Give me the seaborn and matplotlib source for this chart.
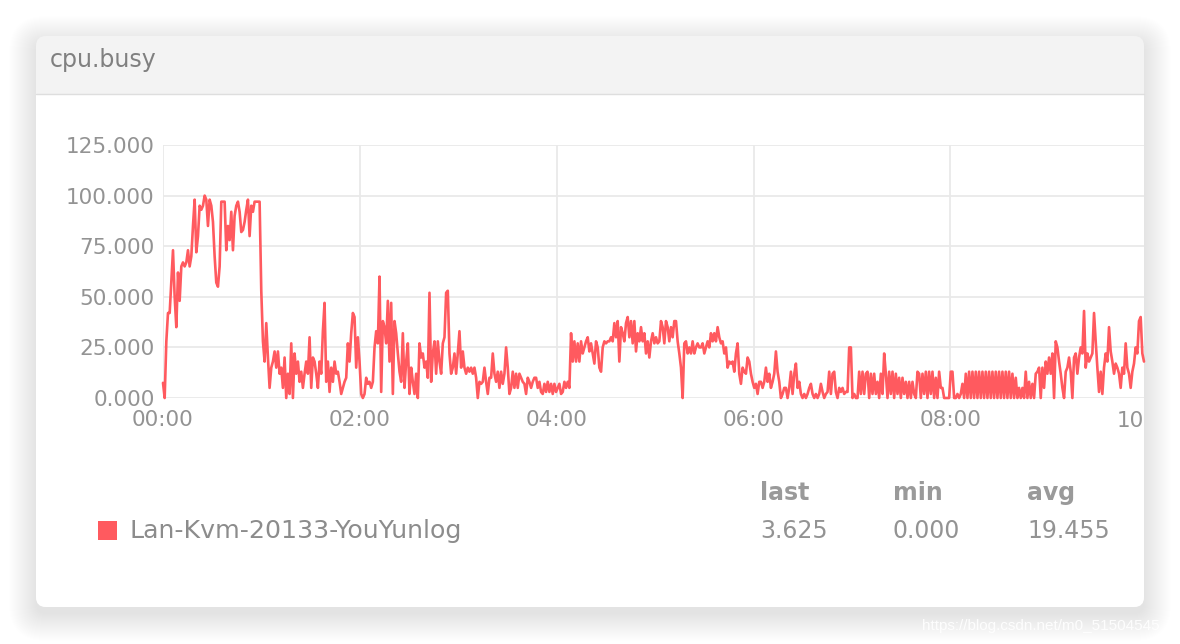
import numpy as np
import matplotlib
matplotlib.use("Agg")
import matplotlib.pyplot as plt
import seaborn as sns
from matplotlib.patches import FancyBboxPatch, Rectangle
from matplotlib.transforms import Bbox, TransformedBbox

# cpu.busy readings (one sample ~ every minute), split by stretch
seg_a = [7.5, 0, 28, 42, 42, 58, 73, 50, 35, 62, 48, 65, 67, 65, 67, 73, 65, 70, 85, 98,
         72, 80, 95, 93, 95, 100, 98, 85, 98, 95, 87, 70, 57, 55, 65, 97, 97, 97, 73, 85,
         78, 92, 73, 90, 95, 97, 92, 82, 83, 87, 93, 98, 80, 95, 92, 97, 97, 97, 97, 53,
         28, 18, 37, 20, 5, 15, 18, 23, 15, 23, 12]
seg_b = [15, 5, 20, 0, 12, 2, 27, 0, 22, 12, 18, 8, 13, 5, 12, 18, 12, 30, 5, 20,
         18, 12, 5, 18, 12, 33, 47, 8, 18, 3, 15, 8, 18, 12, 13, 8, 2, 5, 8, 10,
         27, 18, 32, 42, 40, 15, 30, 18, 2, 0, 2, 10, 7, 8, 5, 8, 25, 33, 27, 60,
         3, 38, 35, 27, 48, 18, 47, 2, 38, 32, 22, 13]
seg_c = [8, 32, 5, 18, 27, 2, 15, 8, 2, 12, 0, 27, 20, 22, 15, 18, 10, 52, 8, 22,
         28, 12, 28, 18, 12, 27, 30, 52, 53, 22, 12, 15, 22, 12, 22, 33, 15, 23, 15, 12,
         15, 13, 15, 12, 15, 10, 0, 8, 7, 8, 15, 8, 2, 10, 10, 22, 12, 8, 13, 5,
         13, 7, 12, 25, 15, 2, 5, 13, 5, 12, 5, 12]
seg_d = [10, 8, 7, 2, 10, 8, 5, 8, 10, 10, 5, 8, 3, 2, 7, 3, 8, 3, 7, 2,
         7, 3, 5, 7, 2, 3, 8, 5, 8, 5, 32, 18, 28, 18, 27, 18, 28, 22, 25, 28,
         30, 23, 27, 22, 17, 28, 25, 15, 13, 25, 28, 27, 28, 28, 30, 28, 37, 30, 38, 18,
         35, 32, 28, 37, 40, 30, 38, 27, 38, 23, 32, 28]
seg_e = [35, 28, 32, 22, 28, 20, 28, 32, 27, 30, 27, 28, 38, 35, 27, 38, 35, 28, 35, 30,
         38, 38, 28, 22, 15, 0, 27, 28, 22, 25, 22, 28, 22, 25, 27, 25, 25, 27, 22, 25,
         28, 25, 32, 28, 32, 28, 35, 30, 27, 28, 22, 25, 15, 18, 17, 18, 13, 22, 27, 12,
         7, 15, 13, 12, 20, 18, 12, 8, 5, 7, 2, 8]
seg_f = [8, 5, 8, 15, 8, 12, 5, 8, 12, 23, 13, 8, 0, 2, 5, 5, 0, 5, 13, 2,
         12, 17, 5, 8, 2, 0, 2, 0, 2, 5, 7, 2, 0, 2, 0, 2, 7, 3, 0, 2,
         3, 13, 2, 12, 13, 3, 0, 5, 3, 5, 2, 3, 3, 25, 25, 0, 2, 0, 0, 13,
         2, 13, 2, 12, 13, 0, 12, 2, 12, 2, 8, 0]
seg_g = [12, 2, 22, 12, 0, 13, 2, 13, 0, 12, 2, 10, 0, 10, 2, 8, 0, 8, 0, 8,
         2, 0, 13, 12, 0, 12, 2, 13, 0, 13, 2, 13, 0, 10, 0, 13, 5, 5, 0, 0,
         0, 0, 13, 13, 0, 0, 2, 0, 2, 7, 0, 12, 0, 13, 0, 13, 0, 13, 0, 13,
         0, 13, 0, 13, 0, 13, 0, 13, 0, 13, 0, 13]
seg_h = [0, 13, 0, 13, 0, 13, 0, 12, 0, 10, 0, 5, 0, 5, 0, 13, 0, 8, 0, 7,
         0, 12, 13, 15, 0, 15, 5, 18, 12, 20, 12, 22, 0, 28, 25, 18, 12, 5, 0, 13,
         15, 20, 13, 0, 20, 22, 12, 20, 25, 22, 43, 15, 22, 18, 20, 22, 42, 28, 15, 3,
         13, 2, 15, 22, 18, 35, 23, 18, 12, 17, 15, 12, 5, 15, 12, 27, 15, 12, 5, 13,
         17, 25, 22, 38, 40, 22, 18]

chart_title = "cpu.busy"
series_name = "Lan-Kvm-20133-YouYunlog"
stat_labels = ["last", "min", "avg"]
stat_values = ["3.625", "0.000", "19.455"]
y_ticks = [0, 25, 50, 75, 100, 125]
x_ticks = [0, 120, 240, 360, 480]
x_tick_labels = ["00:00", "02:00", "04:00", "06:00", "08:00"]
clipped_label = "10:00"
watermark = "https://blog.csdn.net/m0_51504545"

values = seg_a + seg_b + seg_c + seg_d + seg_e + seg_f + seg_g + seg_h
minutes = np.linspace(0, 598, len(values))

line_color = "#ff5a5f"
tick_color = "#939393"

sns.set_style("white")
plt.rcParams["font.family"] = ["DejaVu Sans"]

W, H = 1180, 644
fig = plt.figure(figsize=(W / 100, H / 100), dpi=100)
fig.patch.set_facecolor("white")

# background layer in pixel coordinates
bg = fig.add_axes([0, 0, 1, 1])
bg.set_xlim(0, W)
bg.set_ylim(H, 0)
bg.axis("off")

# soft drop shadow
for i in range(28):
    bg.add_patch(FancyBboxPatch((36 - i, 36 - i + 7), 1108 + 2 * i, 571 + 2 * i,
                                boxstyle="round,pad=0,rounding_size=%d" % (10 + i),
                                fc="black", ec="none", alpha=0.0055))

# card with header band
bg.add_patch(FancyBboxPatch((36, 36), 1108, 571, boxstyle="round,pad=0,rounding_size=10",
                            fc="#f3f3f3", ec="none"))
bg.add_patch(FancyBboxPatch((36, 94), 1108, 513, boxstyle="round,pad=0,rounding_size=10",
                            fc="white", ec="none"))
bg.add_patch(Rectangle((36, 94), 1108, 30, fc="white", ec="none"))
bg.plot([36, 1144], [93.5, 93.5], color="#dedede", lw=1)
bg.text(50, 60, chart_title, fontsize=17, color="#808080", va="center", ha="left")

# the chart
ax = fig.add_axes([163 / W, 1 - 398 / H, (1144 - 163) / W, (398 - 145) / H])
ax.patch.set_alpha(0)
sns.lineplot(x=minutes, y=values, ax=ax, color=line_color, linewidth=1.9, errorbar=None)
for ln in ax.lines:
    ln.set_clip_on(False)
ax.set_xlim(0, 598)
ax.set_ylim(0, 125)
ax.set_yticks(y_ticks)
ax.set_yticklabels([f"{v:.3f}" for v in y_ticks])
ax.set_xticks(x_ticks)
ax.set_xticklabels(x_tick_labels)
ax.grid(True, color="#e9e9e9", lw=1.3)
for s in ax.spines.values():
    s.set_visible(False)
ax.tick_params(length=0, labelsize=15.5, labelcolor=tick_color)
ax.tick_params(axis="y", pad=6)
ax.tick_params(axis="x", pad=9)
ax.set_xlabel("")
ax.set_ylabel("")

# last hour label, cut off by the card edge
t = bg.text(163 + 600 / 598 * 981, 398 + 12.5, clipped_label, ha="center", va="top",
            fontsize=15.5, color=tick_color)
t.set_clip_box(TransformedBbox(Bbox.from_extents(0, 0, 1143 / W, 1), fig.transFigure))
t.set_clip_on(True)

# legend table
bg.add_patch(Rectangle((98, 521), 19, 19, fc=line_color, ec="none"))
bg.text(130, 531, series_name, fontsize=18.2, color="#8c8c8c", va="center", ha="left")
for xpos, lab, val in zip([760, 893, 1027], stat_labels, stat_values):
    bg.text(xpos, 493, lab, fontsize=17, fontweight="bold", color="#9a9a9a", va="center")
    bg.text(xpos, 531, val, fontsize=17, color="#939393", va="center")

bg.text(922, 626, watermark, fontsize=11, color="white", alpha=0.9,
        family="Liberation Sans", va="center")

fig.savefig("out.png", dpi=100)
